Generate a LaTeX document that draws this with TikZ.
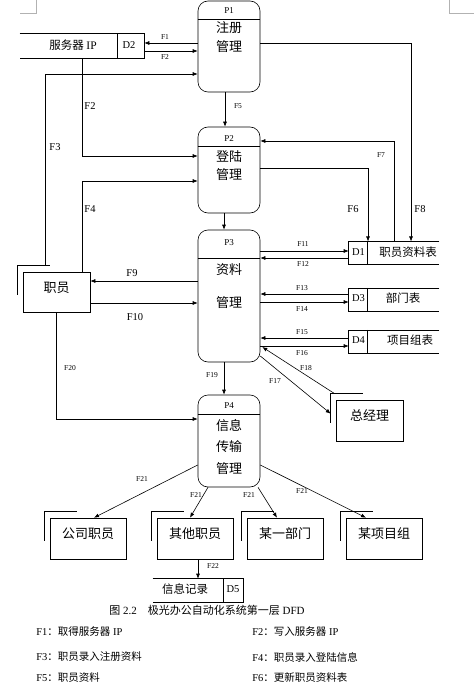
\documentclass[tikz,border=0pt]{standalone}
\usepackage{fontspec}
\setmainfont{Liberation Serif}
\newfontfamily\cjk{Noto Sans CJK SC}
\usetikzlibrary{arrows.meta}

\begin{document}
\begin{tikzpicture}
[x=1pt,y=-1pt,line width=0.6pt,>={Latex[length=5pt,width=4pt]},
proc/.style={draw,rounded corners=10pt,minimum width=62pt,inner sep=0pt},
ent/.style={draw,minimum height=41pt,inner sep=0pt,text height=11pt,text depth=11pt,
  font=\cjk\fontsize{13}{15}\selectfont},
store/.style={inner sep=0pt},
cn/.style={font=\cjk\fontsize{13}{19}\selectfont,align=center,inner sep=0pt},
ct/.style={font=\cjk\fontsize{11.5}{13}\selectfont,inner sep=0pt},
pid/.style={font=\fontsize{9}{10}\selectfont,inner sep=0pt},
fl/.style={font=\fontsize{7.5}{8}\selectfont,inner sep=0pt},
fb/.style={font=\fontsize{10.5}{12}\selectfont,inner sep=0pt},
lg/.style={font=\fontsize{10.5}{12}\selectfont,inner sep=0pt,anchor=west}]
\useasboundingbox (0,0) rectangle (474,695);
% page corner marks
\draw[gray!60,line width=0.5pt] (20,13) -- (36,13) -- (36,0);
\draw[gray!60,line width=0.5pt] (474,13) -- (449,13) -- (449,0);
% processes
\node[proc,minimum height=91pt] (p1) at (229,46.5) {};
\node[proc,minimum height=86pt] (p2) at (229,170) {};
\node[proc,minimum height=132pt] (p3) at (229,296) {};
\node[proc,minimum height=92pt] (p4) at (229,441) {};
\foreach \p/\s/\y in {1/19/11,2/146/139,3/258/243,4/414/406}{
  \draw (p\p.west |- 0,\s) -- (p\p.east |- 0,\s);
  \node[pid] (pid\p) at (229,\y) {P\p};
}
\node[cn] (p1t) at (229,37.5) {注册\\管理};
\node[cn] (p2t) at (229,166) {登陆\\[-1pt]管理};
\node[cn] (p3t) at (229,286.5) {资料\\[14pt]管理};
\node[cn] (p4t) at (229,446.5) {信息\\[2.5pt]传输\\[2.5pt]管理};
% data stores
\node[store,minimum width=124pt,minimum height=24pt] (d2) at (82,46) {};
\draw (d2.north west) -- (d2.north east) -- (d2.south east) -- (d2.south west);
\draw ([xshift=-27]d2.north east) -- ([xshift=-27]d2.south east);
\node[ct] (d2t) at (73,45) {服务器 \rmfamily IP};
\node[fb] (d2id) at (129,45) {D2};
\foreach \d/\y/\t/\tx in {1/253/职员资料表/408,3/299.5/部门表/403,4/341.5/项目组表/410}{
  \node[store,minimum width=90pt,minimum height=22.5pt] (d\d) at (394,\y) {};
  \draw (d\d.north east) -- (d\d.north west) -- (d\d.south west) -- (d\d.south east);
  \draw ([xshift=19]d\d.north west) -- ([xshift=19]d\d.south west);
  \node[fb] (d\d id) at (358.5,\y-1) {D\d};
  \node[ct] (d\d t) at (\tx,\y-1) {\t};
}
\node[store,minimum width=90pt,minimum height=23pt] (d5) at (198,590.5) {};
\draw (d5.north west) -- (d5.north east) -- (d5.south east) -- (d5.south west);
\draw ([xshift=-20]d5.north east) -- ([xshift=-20]d5.south east);
\node[ct] (d5t) at (185,589) {信息记录};
\node[fb] (d5id) at (233,589) {D5};
% external entities
\node[ent,minimum width=67pt,minimum height=40pt] (zy) at (56.5,292) {职员};
\node[ent,minimum width=67pt] (zjl) at (369.5,420.5) {总经理};
\node[ent,minimum width=76pt] (gs) at (88,538.5) {公司职员};
\node[ent,minimum width=76pt] (qt) at (195,538.5) {其他职员};
\node[ent,minimum width=76pt] (bm) at (285,538.5) {某一部门};
\node[ent,minimum width=76pt] (xm) at (384,538.5) {某项目组};
\foreach \e in {zy,zjl,gs,qt,bm,xm}
  \draw ([shift={(-5,-6)}]\e.north west) coordinate (\e-c) ++(0,29) |- ++(32,-29);
% flows
\draw[->] (p1.west |- 0,43) -- (d2.east |- 0,43);
\draw[->] (d2.east |- 0,51) -- (p1.west |- 0,51);
\draw[->] (d2.south) |- (p2.west |- 0,156);
\draw[->] ([xshift=28]zy-c) |- (p1.west |- 0,74);
\draw[->] (zy.north -| d2.south) |- (p2.west |- 0,181);
\draw[->] ([xshift=-4]p1.south) -- ([xshift=-4]p2.north);
\draw[->] ([xshift=-5]p2.south) -- ([xshift=-5]p3.north);
\draw[->] ([xshift=-5]p3.south) -- ([xshift=-5]p4.north);
\draw[->] (p2.east |- 0,168) -| ([xshift=-26]d1.north);
\draw[->] (d1.north) |- (p2.east |- 0,141);
\draw[->] (p1.east |- 0,43) -| ([xshift=17]d1.north);
\draw[->] (p3.west |- 0,281) -- (zy.east |- 0,281);
\draw[->] (zy.east |- 0,303) -- (p3.west |- 0,303);
\draw[->] (p3.east |- 0,251) -- (d1.west |- 0,251);
\draw[->] (d1.west |- 0,258) -- (p3.east |- 0,258);
\draw[->] (d3.west |- 0,294) -- (p3.east |- 0,294);
\draw[->] (p3.east |- 0,302) -- (d3.west |- 0,302);
\draw[->] (d4.west |- 0,338) -- (p3.east |- 0,338);
\draw[->] (p3.east |- 0,346) -- (d4.west |- 0,346);
\draw[->] (p3.east |- 0,356) -- ([yshift=-20]zjl-c);
\draw[->] ([xshift=4]zjl-c) -- ([xshift=2]p3.east |- 0,347);
\draw[->] (zy.south) |- (p4.west |- 0,419);
\draw[->] (p4.west |- 0,465) -- ([xshift=6]gs.north);
\draw[->] ([xshift=-21]p4.south) -- ([xshift=-5]qt.north);
\draw[->] ([xshift=29]p4.south) -- ([xshift=-8]bm.north);
\draw[->] (p4.east |- 0,465) -- ([xshift=-18]xm.north);
\draw[->] (d5.north |- qt.south) -- (d5.north);
% flow labels
\foreach \t/\x/\y [count=\i] in {F1/165/37,F2/165/57,F5/238/106,F7/381/155,
  F11/303/244,F12/303/264,F13/302/288,F14/302/309,F15/302/332,F16/302/353,
  F17/275/381,F18/306/368,F19/212/375,F20/70/368,F21/142/479,F21/196/495,
  F21/249/495,F21/302/491,F22/213/566}
  \node[fl] (fl\i) at (\x,\y) {\t};
\foreach \t/\x/\y [count=\i] in {F2/90/106,F3/55/147,F4/90/209,F6/353/209,
  F8/420/209,F9/132/273,F10/135/317}
  \node[fb] (fb\i) at (\x,\y) {\t};
% caption and legend
\node[font=\fontsize{11}{13}\selectfont,inner sep=0pt] (cap) at (207,610)
  {{\cjk 图} 2.2{\cjk 　极光办公自动化系统第一层} DFD};
\node[lg] (lg1) at (36,632) {F1{\cjk ：取得服务器} IP};
\node[lg] (lg2) at (252,632) {F2{\cjk ：写入服务器} IP};
\node[lg] (lg3) at (36,657) {F3{\cjk ：职员录入注册资料}};
\node[lg] (lg4) at (252,657) {F4{\cjk ：职员录入登陆信息}};
\node[lg] (lg5) at (36,678) {F5{\cjk ：职员资料}};
\node[lg] (lg6) at (252,678) {F6{\cjk ：更新职员资料表}};
\end{tikzpicture}
\end{document}
